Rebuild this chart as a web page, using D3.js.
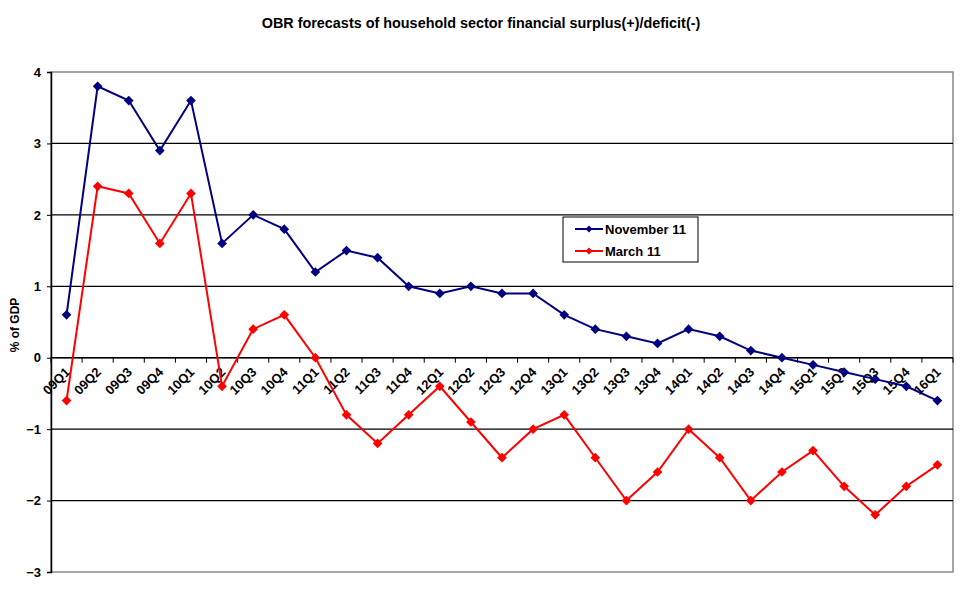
<!DOCTYPE html>
<html>
<head>
<meta charset="utf-8">
<script src="https://cdn.jsdelivr.net/npm/d3@7"></script>
<style>
  body { margin: 0; background: #fff; }
  svg text { font-family: "Liberation Sans", Arial, sans-serif; font-weight: bold; }
</style>
</head>
<body>
<svg id="chart" width="970" height="600"></svg>
<script>
'use strict';
// quarters 09Q1 .. 16Q1
const quarters = ['09Q1','09Q2','09Q3','09Q4','10Q1','10Q2','10Q3','10Q4',
  '11Q1','11Q2','11Q3','11Q4','12Q1','12Q2','12Q3','12Q4',
  '13Q1','13Q2','13Q3','13Q4','14Q1','14Q2','14Q3','14Q4',
  '15Q1','15Q2','15Q3','15Q4','16Q1'];
const november11 = [0.6, 3.8, 3.6, 2.9, 3.6, 1.6, 2.0, 1.8,
  1.2, 1.5, 1.4, 1.0, 0.9, 1.0, 0.9, 0.9,
  0.6, 0.4, 0.3, 0.2, 0.4, 0.3, 0.1, 0.0,
  -0.1, -0.2, -0.3, -0.4, -0.6];
const march11 = [-0.6, 2.4, 2.3, 1.6, 2.3, -0.4, 0.4, 0.6,
  0.0, -0.8, -1.2, -0.8, -0.4, -0.9, -1.4, -1.0,
  -0.8, -1.4, -2.0, -1.6, -1.0, -1.4, -2.0, -1.6,
  -1.3, -1.8, -2.2, -1.8, -1.5];
const yTicks = [4, 3, 2, 1, 0, -1, -2, -3];
const seriesNames = ['November 11', 'March 11'];

const series = [
  { name: seriesNames[0], values: november11, color: '#000080' },
  { name: seriesNames[1], values: march11, color: '#ff0000' }
];

const svg = d3.select('#chart');
const plotL = 51, plotR = 953, plotT = 72, plotB = 572;

const x = d3.scaleBand()
  .domain(quarters)
  .range([plotL, plotR]);

const y = d3.scaleLinear()
  .domain([-3, 4])
  .range([plotB, plotT]);

// title
svg.append('text')
  .attr('x', 481)
  .attr('y', 28)
  .attr('text-anchor', 'middle')
  .attr('font-size', 14.4)
  .text('OBR forecasts of household sector financial surplus(+)/deficit(-)');

// y label
svg.append('text')
  .attr('transform', 'translate(19,325) rotate(-90)')
  .attr('text-anchor', 'middle')
  .attr('font-size', 12)
  .text('% of GDP');

// plot frame (grey)
svg.append('rect')
  .attr('x', plotL)
  .attr('y', plotT)
  .attr('width', plotR - plotL)
  .attr('height', plotB - plotT)
  .attr('fill', 'none')
  .attr('stroke', '#888')
  .attr('stroke-width', 1.5);

// gridlines
svg.append('g')
  .selectAll('line')
  .data(yTicks.filter(d => d !== 4 && d !== -3))
  .enter().append('line')
  .attr('x1', plotL)
  .attr('x2', plotR)
  .attr('y1', d => y(d))
  .attr('y2', d => y(d))
  .attr('stroke', '#000')
  .attr('stroke-width', 1.2);

// y axis
const yAxis = svg.append('g')
  .attr('transform', `translate(${plotL},0)`)
  .call(d3.axisLeft(y).tickValues(yTicks).tickSize(4).tickPadding(6).tickFormat(d3.format('d')));
yAxis.select('.domain').attr('stroke', '#000').attr('stroke-width', 1.5);
yAxis.selectAll('text').attr('font-size', 13).attr('fill', '#000')
  .style('font-family', '"Liberation Sans", Arial, sans-serif').style('font-weight', 'bold');

// x axis at zero, ticks between categories
const xAxisG = svg.append('g');
xAxisG.append('line')
  .attr('x1', plotL).attr('x2', plotR)
  .attr('y1', y(0)).attr('y2', y(0))
  .attr('stroke', '#000').attr('stroke-width', 1.5);
xAxisG.selectAll('.tick')
  .data(d3.range(quarters.length + 1))
  .enter().append('line')
  .attr('x1', i => plotL + i * x.step())
  .attr('x2', i => plotL + i * x.step())
  .attr('y1', y(0))
  .attr('y2', y(0) + 5)
  .attr('stroke', '#000');
xAxisG.selectAll('text')
  .data(quarters)
  .enter().append('text')
  .attr('transform', d => `translate(${x(d) + x.bandwidth() / 2 + 1},${y(0) + 12}) rotate(-45)`)
  .attr('text-anchor', 'end')
  .attr('dy', '0.35em')
  .attr('font-size', 13)
  .text(d => d);

// lines and markers
const line = d3.line()
  .x((d, i) => x(quarters[i]) + x.bandwidth() / 2)
  .y(d => y(d));

const diamond = d3.symbol().type(d3.symbolDiamond2).size(60);

series.forEach(s => {
  svg.append('path')
    .datum(s.values)
    .attr('fill', 'none')
    .attr('stroke', s.color)
    .attr('stroke-width', 2)
    .attr('d', line);
  svg.append('g')
    .selectAll('path')
    .data(s.values)
    .enter().append('path')
    .attr('transform', (d, i) => `translate(${x(quarters[i]) + x.bandwidth() / 2},${y(d)})`)
    .attr('d', diamond)
    .attr('fill', s.color);
});

// legend
const legend = svg.append('g').attr('transform', 'translate(563,217)');
legend.append('rect')
  .attr('width', 135).attr('height', 45)
  .attr('fill', '#fff').attr('stroke', '#000');
series.forEach((s, i) => {
  const ly = 12 + i * 22;
  legend.append('line')
    .attr('x1', 12).attr('x2', 40)
    .attr('y1', ly).attr('y2', ly)
    .attr('stroke', s.color).attr('stroke-width', 2);
  legend.append('path')
    .attr('transform', `translate(26,${ly})`)
    .attr('d', d3.symbol().type(d3.symbolDiamond2).size(30))
    .attr('fill', s.color);
  legend.append('text')
    .attr('x', 42).attr('y', ly)
    .attr('dy', '0.35em')
    .attr('font-size', 13)
    .text(s.name);
});
</script>
</body>
</html>
